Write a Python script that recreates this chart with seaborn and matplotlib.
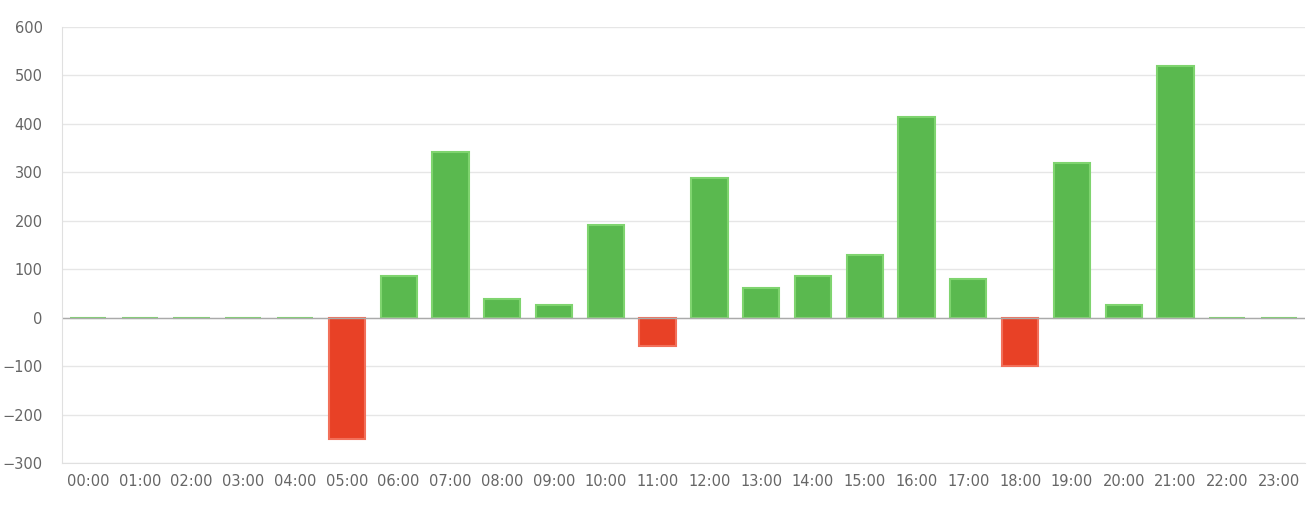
import matplotlib
matplotlib.use("Agg")
import matplotlib.pyplot as plt
import seaborn as sns
import pandas as pd

hours = [f"{h:02d}:00" for h in range(24)]
values = [0, 0, 0, 0, 0, -250, 85, 341, 39, 27, 192, -58, 288, 62, 85, 130, 414, 79, -99, 319, 27, 519, 0, 0]

df = pd.DataFrame({"hour": hours, "value": values})
colors = ["#5ab94f" if v >= 0 else "#e84126" for v in values]
edges = ["#7fd46f" if v >= 0 else "#f2705a" for v in values]

sns.set_style("white")
plt.rcParams["font.family"] = ["DejaVu Sans"]
fig = plt.figure(figsize=(13.15, 5.13), dpi=100)
ax = fig.add_axes([62/1315, 50/513, 1243/1315, 436/513])
sns.barplot(data=df, x="hour", y="value", hue="hour", palette=colors, legend=False,
            width=0.7, ax=ax, saturation=1)
for p, ec in zip(ax.patches, edges):
    p.set_edgecolor(ec)
    p.set_linewidth(1.5)
ax.set_ylim(-300, 600)
ax.set_xlim(-0.5, 23.5)
ax.set_yticks(range(-300, 601, 100))
ax.grid(axis="y", color="#e6e6e6", linewidth=1)
ax.set_axisbelow(True)
ax.axhline(0, color="#aaaaaa", linewidth=1, zorder=1)
for s in ["top", "right"]:
    ax.spines[s].set_visible(False)
for s in ["left", "bottom"]:
    ax.spines[s].set_color("#e0e0e0")
ax.tick_params(axis="both", colors="#666666", labelsize=10.5, length=0)
ax.tick_params(axis="x", pad=8)
ax.tick_params(axis="y", pad=14)
ax.set_xlabel("")
ax.set_ylabel("")
fig.savefig("out.png", dpi=100)
